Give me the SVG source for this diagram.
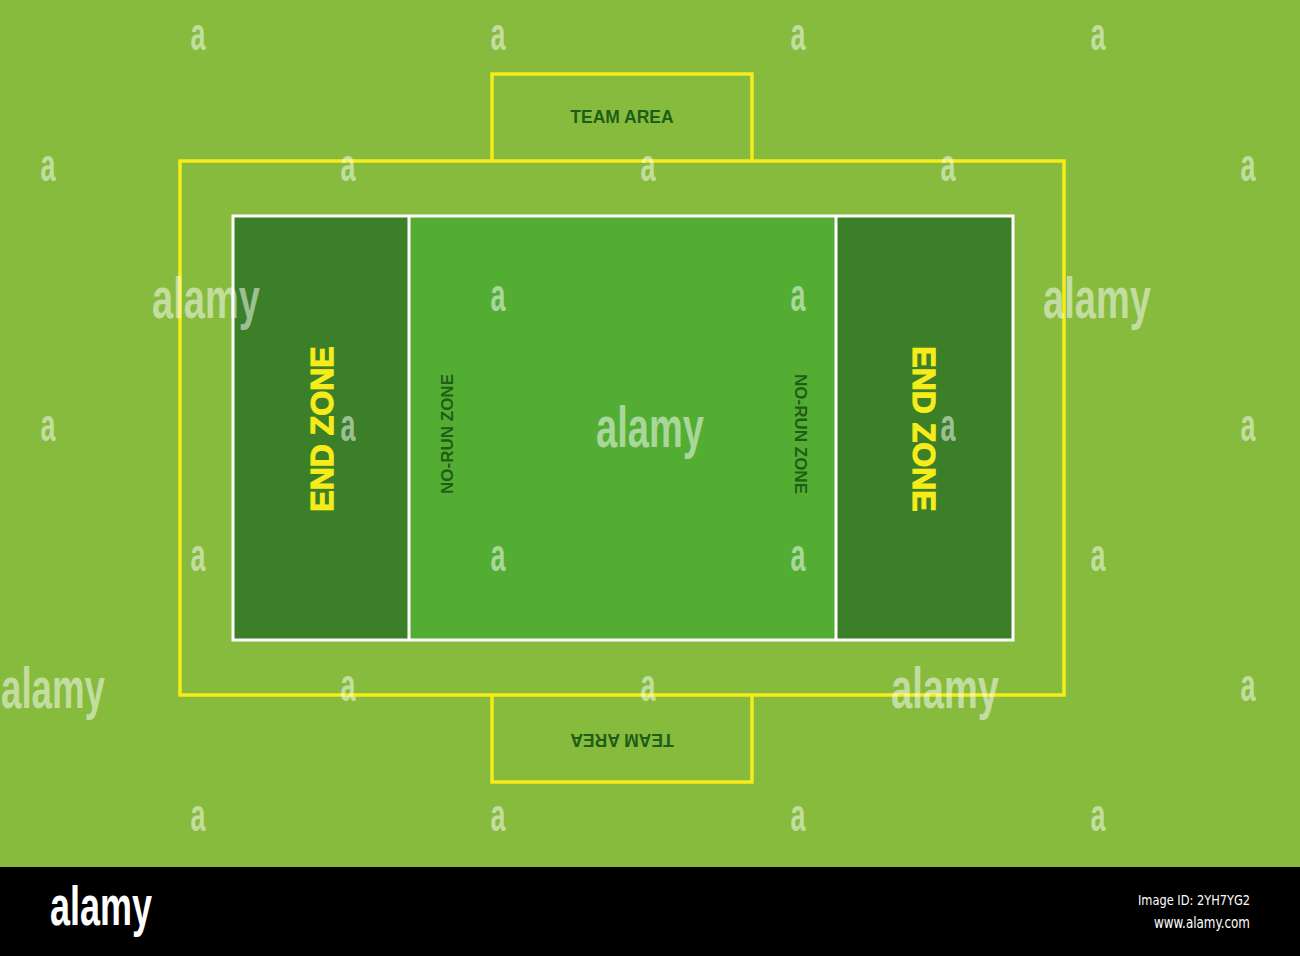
<svg xmlns="http://www.w3.org/2000/svg" width="1300" height="956" viewBox="0 0 1300 956">
<defs>
<style>
.yl{fill:none;stroke:#f7ec1a;stroke-width:3.5}
.wl{fill:none;stroke:#ffffff;stroke-width:3}
.ez{font-family:"Liberation Sans",Arial,sans-serif;font-weight:bold;font-size:32px;fill:#f7ec1a;stroke:#f7ec1a;stroke-width:1.2;text-anchor:middle}
.nr{font-family:"Liberation Sans",Arial,sans-serif;font-weight:bold;font-size:17px;fill:#1f5e16;text-anchor:middle}
.ta{font-family:"Liberation Sans",Arial,sans-serif;font-weight:bold;font-size:17.5px;fill:#1f5e16;text-anchor:middle}
.wm{font-family:"Liberation Sans",Arial,sans-serif;font-weight:bold;fill:#ffffff;fill-opacity:0.5;text-anchor:middle}
.ft{font-family:"Liberation Sans Narrow","DejaVu Sans Condensed","Liberation Sans",sans-serif;fill:#ffffff;text-anchor:end}
</style>
</defs>
<rect x="0" y="0" width="1300" height="956" fill="#86bb3e"/>
<g id="field">
<rect id="end-zone-left" x="233" y="216" width="176" height="424" fill="#3b7f29"/>
<rect id="play-area" x="409" y="216" width="427" height="424" fill="#53ad33"/>
<rect id="end-zone-right" x="836" y="216" width="177" height="424" fill="#3b7f29"/>
<rect class="wl" x="233" y="216" width="780" height="424"/>
<line class="wl" x1="409" y1="216" x2="409" y2="640"/>
<line class="wl" x1="836" y1="216" x2="836" y2="640"/>
</g>
<g id="boundary">
<rect class="yl" x="180" y="161" width="884" height="534"/>
<polyline class="yl" points="492,161 492,74 752,74 752,161"/>
<polyline class="yl" points="492,695 492,782 752,782 752,695"/>
</g>
<g id="labels">
<text class="ez" transform="translate(333,429) rotate(-90)">END ZONE</text>
<text class="ez" transform="translate(913,429) rotate(90)">END ZONE</text>
<text class="nr" transform="translate(453,434) rotate(-90)">NO-RUN ZONE</text>
<text class="nr" transform="translate(795,434) rotate(90)">NO-RUN ZONE</text>
<text class="ta" x="622" y="123">TEAM AREA</text>
<text class="ta" transform="translate(622,734) rotate(180)">TEAM AREA</text>
</g>
<g id="watermarks" class="wm">
<g font-size="46">
<text x="198" y="50" textLength="15" lengthAdjust="spacingAndGlyphs">a</text>
<text x="498" y="50" textLength="15" lengthAdjust="spacingAndGlyphs">a</text>
<text x="798" y="50" textLength="15" lengthAdjust="spacingAndGlyphs">a</text>
<text x="1098" y="50" textLength="15" lengthAdjust="spacingAndGlyphs">a</text>
<text x="48" y="181" textLength="15" lengthAdjust="spacingAndGlyphs">a</text>
<text x="348" y="181" textLength="15" lengthAdjust="spacingAndGlyphs">a</text>
<text x="648" y="181" textLength="15" lengthAdjust="spacingAndGlyphs">a</text>
<text x="948" y="181" textLength="15" lengthAdjust="spacingAndGlyphs">a</text>
<text x="1248" y="181" textLength="15" lengthAdjust="spacingAndGlyphs">a</text>
<text x="498" y="311" textLength="15" lengthAdjust="spacingAndGlyphs">a</text>
<text x="798" y="311" textLength="15" lengthAdjust="spacingAndGlyphs">a</text>
<text x="48" y="441" textLength="15" lengthAdjust="spacingAndGlyphs">a</text>
<text x="348" y="441" textLength="15" lengthAdjust="spacingAndGlyphs">a</text>
<text x="948" y="441" textLength="15" lengthAdjust="spacingAndGlyphs">a</text>
<text x="1248" y="441" textLength="15" lengthAdjust="spacingAndGlyphs">a</text>
<text x="198" y="571" textLength="15" lengthAdjust="spacingAndGlyphs">a</text>
<text x="498" y="571" textLength="15" lengthAdjust="spacingAndGlyphs">a</text>
<text x="798" y="571" textLength="15" lengthAdjust="spacingAndGlyphs">a</text>
<text x="1098" y="571" textLength="15" lengthAdjust="spacingAndGlyphs">a</text>
<text x="348" y="701" textLength="15" lengthAdjust="spacingAndGlyphs">a</text>
<text x="648" y="701" textLength="15" lengthAdjust="spacingAndGlyphs">a</text>
<text x="1248" y="701" textLength="15" lengthAdjust="spacingAndGlyphs">a</text>
<text x="198" y="831" textLength="15" lengthAdjust="spacingAndGlyphs">a</text>
<text x="498" y="831" textLength="15" lengthAdjust="spacingAndGlyphs">a</text>
<text x="798" y="831" textLength="15" lengthAdjust="spacingAndGlyphs">a</text>
<text x="1098" y="831" textLength="15" lengthAdjust="spacingAndGlyphs">a</text>
</g>
<g font-size="58">
<text x="206" y="318" textLength="108" lengthAdjust="spacingAndGlyphs">alamy</text>
<text x="1097" y="318" textLength="108" lengthAdjust="spacingAndGlyphs">alamy</text>
<text x="650" y="447" textLength="108" lengthAdjust="spacingAndGlyphs">alamy</text>
<text x="53" y="708" textLength="104" lengthAdjust="spacingAndGlyphs">alamy</text>
<text x="945" y="708" textLength="108" lengthAdjust="spacingAndGlyphs">alamy</text>
</g>
</g>
<g id="footer">
<rect x="0" y="867" width="1300" height="89" fill="#000000"/>
<text x="101" y="925" font-family="Liberation Sans,Arial,sans-serif" font-weight="bold" font-size="56" fill="#ffffff" text-anchor="middle" textLength="102" lengthAdjust="spacingAndGlyphs">alamy</text>
<text class="ft" x="1250" y="905" font-size="14" textLength="112" lengthAdjust="spacingAndGlyphs">Image ID: 2YH7YG2</text>
<text class="ft" x="1250" y="928" font-size="16" textLength="96" lengthAdjust="spacingAndGlyphs">www.alamy.com</text>
</g>
</svg>
